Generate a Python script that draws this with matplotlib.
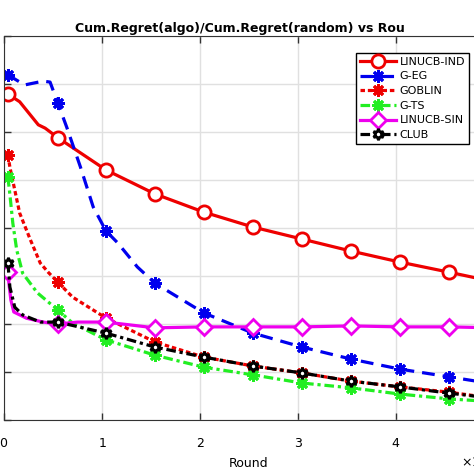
import numpy as np
import matplotlib
matplotlib.use("Agg")
import matplotlib.pyplot as plt
from matplotlib.ticker import ScalarFormatter
from matplotlib.transforms import Bbox

# values (x in units of 1e4 rounds)
linucb_ind_x = [0.04, 0.16, 0.35, 0.42, 0.55, 1.04, 1.54, 2.04, 2.54, 3.04, 3.54, 4.04, 4.54, 5.0]
linucb_ind_y = [0.679, 0.663, 0.615, 0.608, 0.588, 0.521, 0.471, 0.433, 0.402, 0.377, 0.352, 0.329, 0.308, 0.288]

geg_x = [0.04, 0.21, 0.40, 0.47, 0.55, 0.64, 0.78, 0.91, 1.04, 1.16, 1.36, 1.54, 2.04, 2.54, 3.04, 3.54, 4.04, 4.54, 5.0]
geg_y = [0.719, 0.698, 0.706, 0.704, 0.660, 0.610, 0.527, 0.444, 0.394, 0.369, 0.319, 0.285, 0.223, 0.181, 0.152, 0.127, 0.106, 0.090, 0.075]

goblin_x = [0.04, 0.06, 0.11, 0.16, 0.27, 0.37, 0.45, 0.55, 0.70, 1.04, 1.54, 2.04, 2.54, 3.04, 3.54, 4.04, 4.54, 5.0]
goblin_y = [0.552, 0.527, 0.479, 0.431, 0.375, 0.327, 0.308, 0.287, 0.256, 0.2125, 0.1625, 0.131, 0.1125, 0.098, 0.081, 0.069, 0.058, 0.045]

gts_x = [0.04, 0.06, 0.09, 0.13, 0.19, 0.34, 0.55, 0.70, 1.04, 1.54, 2.04, 2.54, 3.04, 3.54, 4.04, 4.54, 5.0]
gts_y = [0.506, 0.47, 0.41, 0.354, 0.306, 0.265, 0.229, 0.202, 0.167, 0.135, 0.110, 0.094, 0.077, 0.067, 0.054, 0.044, 0.038]

linucb_sin_x = [0.04, 0.05, 0.07, 0.10, 0.23, 0.40, 0.55, 0.75, 1.04, 1.54, 2.04, 2.54, 3.04, 3.54, 4.04, 4.54, 5.0]
linucb_sin_y = [0.308, 0.285, 0.25, 0.225, 0.212, 0.204, 0.200, 0.204, 0.204, 0.192, 0.194, 0.194, 0.194, 0.196, 0.194, 0.194, 0.192]

club_x = [0.04, 0.06, 0.11, 0.19, 0.37, 0.55, 1.04, 1.54, 2.04, 2.54, 3.04, 3.54, 4.04, 4.54, 5.0]
club_y = [0.327, 0.277, 0.235, 0.219, 0.204, 0.204, 0.181, 0.152, 0.131, 0.1125, 0.098, 0.081, 0.069, 0.056, 0.045]

# rounds where MATLAB put the markers
mark_x = [0.04, 0.55, 1.04, 1.54, 2.04, 2.54, 3.04, 3.54, 4.04, 4.54]

plt.rcParams['font.family'] = ['DejaVu Sans']

fig = plt.figure(figsize=(4.74, 4.74), dpi=100)
ax = fig.add_axes([4/474, 54/474, 490/474, 384/474])

asterisk = (8, 2, 0)
series = [
    ("LINUCB-IND", linucb_ind_x, linucb_ind_y, dict(color="#ee0000", ls="-", marker="o", mfc="white", ms=9.5)),
    ("G-EG", geg_x, geg_y, dict(color="#0000ee", ls=(0, (4, 2.5)), marker=asterisk, mfc="#0000ee", ms=9)),
    ("GOBLIN", goblin_x, goblin_y, dict(color="#ee0000", ls=(0, (1.4, 0.9)), marker=asterisk, mfc="#ee0000", ms=9)),
    ("G-TS", gts_x, gts_y, dict(color="#22ee22", ls=(0, (3, 1.2, 1, 1.2)), marker=asterisk, mfc="#22ee22", ms=9)),
    ("LINUCB-SIN", linucb_sin_x, linucb_sin_y, dict(color="#ee00ee", ls="-", marker="D", mfc="white", ms=8)),
    ("CLUB", club_x, club_y, dict(color="black", ls=(0, (3, 1.2, 1, 1.2)), marker=(6, 1, 0), mfc="white", ms=8)),
]

for name, xs, ys, st in series:
    xs = np.array(xs)
    idx = [int(np.argmin(np.abs(xs - m))) for m in mark_x]
    ax.plot(xs * 1e4, ys, label=name, lw=2.3, mew=2, markevery=idx, **st)

ax.set_xlim(0, 5e4)
ax.set_ylim(0, 0.8)
ax.set_xticks([0, 1e4, 2e4, 3e4, 4e4, 5e4])
ax.set_yticks(np.arange(0, 0.81, 0.1))
fmt = ScalarFormatter(useMathText=True)
fmt.set_powerlimits((0, 0))
ax.xaxis.set_major_formatter(fmt)
ax.grid(True, color="#e0e0e0", lw=1)
ax.set_axisbelow(True)
ax.tick_params(direction="in", top=True, right=True, length=5, width=1, labelsize=9, pad=12, color="#333333")
for s in ax.spines.values():
    s.set_color("#333333")
ax.xaxis.get_offset_text().set_fontsize(9)
ax.set_xlabel("Round", fontsize=9, labelpad=5)

t = ax.set_title("Cum.Regret(algo)/Cum.Regret(random) vs Round", fontsize=9, fontweight="bold", pad=3)
t.set_clip_box(Bbox.from_extents(0, 0, 405, 474))
t.set_clip_on(True)

leg = ax.legend(loc="upper right", bbox_to_anchor=(0.949, 0.956), borderaxespad=0,
                fontsize=8, fancybox=False, edgecolor="black", framealpha=1,
                handlelength=3.3, handletextpad=0.3, labelspacing=0.42, borderpad=0.35)
leg.get_frame().set_linewidth(1)

fig.savefig("out.png", dpi=100)
